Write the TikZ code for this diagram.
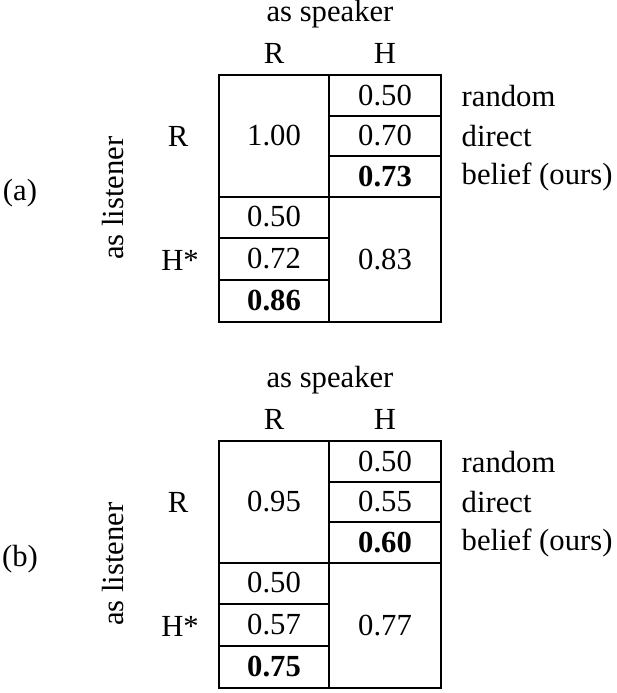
\documentclass[tikz,border=0pt]{standalone}
\usepackage{fontspec}
\setmainfont{Liberation Serif}
\begin{document}
\begin{tikzpicture}[x=0.75pt,y=-0.75pt,line width=1.1pt,
  lbl/.style={font=\fontsize{23}{26}\selectfont,inner sep=0pt},
  rl/.style={lbl,anchor=west}]
\useasboundingbox (0,0) rectangle (617,693);
\foreach \o/\tag/\rr/\ra/\rb/\rc/\hh/\ha/\hb/\hc in
 {0/a/1.00/0.50/0.70/\textbf{0.73}/0.83/0.50/0.72/\textbf{0.86},
  366/b/0.95/0.50/0.55/\textbf{0.60}/0.77/0.50/0.57/\textbf{0.75}}{
 \begin{scope}[yshift=-\o*0.75pt]
 \draw (219,75) rectangle (441,322);
 \draw (329,75) -- (329,322);
 \draw (219,197) -- (441,197);
 \draw (329,116) -- (441,116) (329,156) -- (441,156);
 \draw (219,238) -- (329,238) (219,280) -- (329,280);
 \node[lbl] (sp\tag) at (330,14) {as speaker};
 \node[lbl] (cR\tag) at (274,53) {R};
 \node[lbl] (cH\tag) at (385,53) {H};
 \node[lbl] (rR\tag) at (178,136) {R};
 \node[lbl] (rH\tag) at (180,260) {H*};
 \node[lbl,rotate=90] (li\tag) at (113,198) {as listener};
 \node[lbl] (tg\tag) at (20,193) {(\tag)};
 \node[lbl] (v1\tag) at (274,136) {\rr};
 \node[lbl] (v2\tag) at (385,96) {\ra};
 \node[lbl] (v3\tag) at (385,136) {\rb};
 \node[lbl] (v4\tag) at (385,177) {\rc};
 \node[lbl] (v5\tag) at (385,260) {\hh};
 \node[lbl] (v6\tag) at (274,217) {\ha};
 \node[lbl] (v7\tag) at (274,259) {\hb};
 \node[lbl] (v8\tag) at (274,301) {\hc};
 \node[rl] (n1\tag) at (461,96) {random};
 \node[rl] (n2\tag) at (461,136) {direct};
 \node[rl] (n3\tag) at (461,177) {belief (ours)};
 \end{scope}}
\end{tikzpicture}
\end{document}
